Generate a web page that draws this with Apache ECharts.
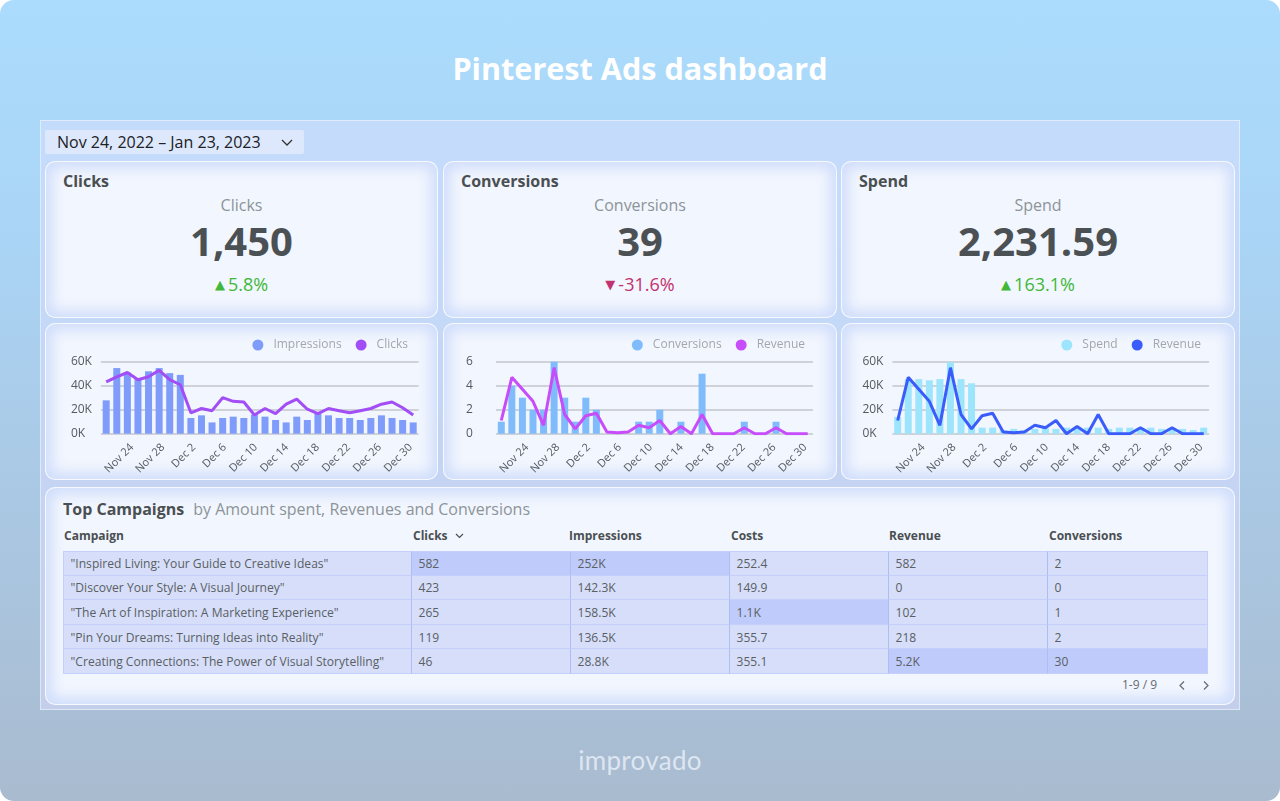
<!DOCTYPE html>
<html>
<head>
<meta charset="utf-8">
<title>Pinterest Ads dashboard</title>
<script src="https://cdn.jsdelivr.net/npm/echarts@6.0.0/dist/echarts.min.js"></script>
<style>
*{box-sizing:border-box;}
html,body{margin:0;padding:0;width:1280px;height:801px;background:#ffffff;overflow:hidden;}
body{font-family:"Open Sans","Noto Sans",sans-serif;}
#page{position:absolute;left:0;top:0;width:1280px;height:801px;border-radius:14px;overflow:hidden;
 background:linear-gradient(180deg,#abdcfd 0%,#aad4f5 30%,#aac7e2 65%,#a9bbcf 100%);}
#title{position:absolute;left:0;top:47px;width:1280px;text-align:center;color:#fff;font-weight:700;font-size:30.6px;line-height:42px;}
#panel{position:absolute;left:40px;top:120px;width:1200px;height:590px;background:rgba(222,224,255,0.5);border:1px solid rgba(255,255,255,0.45);}
#picker{position:absolute;left:45px;top:130px;width:259px;height:24px;background:#dde8fc;border-radius:2px;
 font-size:16px;line-height:24px;color:#202124;padding-left:12px;}
#picker svg{position:absolute;left:236px;top:9px;}
.card{position:absolute;border-radius:10px;background:#f2f6fe;
 box-shadow:inset 0 0 14px 6px rgba(207,221,251,1);border:1px solid rgba(255,255,255,0.4);}
.kpi-title{position:absolute;left:17px;top:7.5px;font-size:16px;line-height:22px;font-weight:700;color:#4a4f52;}
.kpi-sub{position:absolute;left:0;right:0;top:31.5px;text-align:center;font-size:16px;line-height:22px;color:#8c9499;}
.kpi-val{position:absolute;left:0;right:0;top:56px;text-align:center;font-size:40px;line-height:46px;font-weight:700;color:#4b5054;}
.kpi-delta{position:absolute;left:0;right:0;top:110px;text-align:center;font-size:18px;line-height:24px;}
.kpi-delta .tri{font-size:13px;margin-right:3px;position:relative;top:-2px;font-family:"DejaVu Sans",sans-serif;}
.up{color:#41b83a;}
.down{color:#c2326f;}
.chart{position:absolute;}
#tbl-title{position:absolute;left:17px;top:9.5px;font-size:16px;line-height:22px;white-space:nowrap;}
#tbl-title b{color:#4a4f52;font-weight:700;}
#tbl-title span{color:#8c9499;margin-left:9px;}
.th{position:absolute;top:40px;font-size:12px;line-height:16px;font-weight:700;color:#4a4f52;white-space:nowrap;}
.td{position:absolute;font-size:13px;color:#5a5f63;white-space:nowrap;overflow:visible;
 border-right:1px solid #aebdf7;border-bottom:1px solid #c4cffb;display:flex;align-items:center;}
.td span{display:inline-block;transform:scaleX(0.93);transform-origin:left center;padding-left:7px;}
#pager{position:absolute;top:188px;left:1076px;font-size:12px;line-height:18px;color:#666b70;}
#logo{position:absolute;left:0;width:1280px;top:742px;text-align:center;font-family:Lato,"Open Sans",sans-serif;
 font-size:26px;line-height:36px;color:rgba(236,242,250,0.78);letter-spacing:0.3px;}
</style>
</head>
<body>
<div id="page">
  <div id="title">Pinterest Ads dashboard</div>
  <div id="panel"></div>
  <div id="picker">Nov 24, 2022 – Jan 23, 2023
    <svg width="12" height="7" viewBox="0 0 12 7"><polyline points="1,1 6,6 11,1" fill="none" stroke="#333" stroke-width="1.3"/></svg>
  </div>

  <div class="card" style="left:45px;top:161px;width:393px;height:157px;">
    <div class="kpi-title">Clicks</div>
    <div class="kpi-sub">Clicks</div>
    <div class="kpi-val" id="kpi1"></div>
    <div class="kpi-delta up" id="d1"></div>
  </div>
  <div class="card" style="left:443px;top:161px;width:394px;height:157px;">
    <div class="kpi-title">Conversions</div>
    <div class="kpi-sub">Conversions</div>
    <div class="kpi-val" id="kpi2"></div>
    <div class="kpi-delta down" id="d2"></div>
  </div>
  <div class="card" style="left:841px;top:161px;width:394px;height:157px;">
    <div class="kpi-title">Spend</div>
    <div class="kpi-sub">Spend</div>
    <div class="kpi-val" id="kpi3"></div>
    <div class="kpi-delta up" id="d3"></div>
  </div>

  <div class="card" style="left:45px;top:323px;width:393px;height:157px;"></div>
  <div class="card" style="left:443px;top:323px;width:394px;height:157px;"></div>
  <div class="card" style="left:841px;top:323px;width:394px;height:157px;"></div>
  <div class="chart" id="c1" style="left:45px;top:323px;width:393px;height:157px;"></div>
  <div class="chart" id="c2" style="left:443px;top:323px;width:394px;height:157px;"></div>
  <div class="chart" id="c3" style="left:841px;top:323px;width:394px;height:157px;"></div>

  <div class="card" id="tcard" style="left:45px;top:487px;width:1190px;height:218px;">
    <div id="tbl-title"><b>Top Campaigns</b><span>by Amount spent, Revenues and Conversions</span></div>
    <div id="pager">1-9 / 9
      <svg style="position:absolute;left:57px;top:5px" width="6" height="9" viewBox="0 0 6 9"><polyline points="5,0.5 1,4.5 5,8.5" fill="none" stroke="#666b70" stroke-width="1.2"/></svg>
      <svg style="position:absolute;left:81px;top:5px" width="6" height="9" viewBox="0 0 6 9"><polyline points="1,0.5 5,4.5 1,8.5" fill="none" stroke="#666b70" stroke-width="1.2"/></svg>
    </div>
  </div>

  <div id="logo">improvado</div>
</div>

<script>
// ---------- KPI values ----------
const kpiValues = ['1,450', '39', '2,231.59'];
const kpiDeltas = ['5.8%', '-31.6%', '163.1%'];

// ---------- time axis ----------
const pointIds = ['01','02','03','04','05','06','07','08','09','10','11','12','13','14','15',
                  '16','17','18','19','20','21','22','23','24','25','26','27','28','29','30'];
const dayLabels = ['Nov 20','Nov 21','Nov 22','Nov 23','Nov 24','Nov 25','Nov 26','Nov 27','Nov 28','Nov 29','Nov 30',
  'Dec 1','Dec 2','Dec 3','Dec 4','Dec 5','Dec 6','Dec 7','Dec 8','Dec 9','Dec 10','Dec 11','Dec 12','Dec 13',
  'Dec 14','Dec 15','Dec 16','Dec 17','Dec 18','Dec 19','Dec 20','Dec 21','Dec 22','Dec 23','Dec 24','Dec 25',
  'Dec 26','Dec 27','Dec 28','Dec 29','Dec 30','Dec 31'];

// ---------- series ----------
const impressions = [27800,54700,51000,46000,52000,54700,50500,49000,13100,15300,9400,13100,14200,13100,15800,
                     14200,11400,9400,14200,11400,17200,15300,13100,13100,11400,13100,15300,13100,11400,9400];
const clicks = [72,79,85,75,79,88,75,68,29,35,32,50,45,44,26,35,28,41,48,34,28,35,32,29,32,35,41,44,36,26];
const conversions = [1,4,3,2,2,6,3,1,3,2,0,0,0,1,1,2,0,1,0,5,0,0,0,1,0,0,1,0,0,0];
const revenue = [11000,47000,37000,27000,7000,55000,16000,4000,15000,17000,1500,800,1500,7000,5000,
                 11000,0,6000,0,16000,0,0,0,5000,0,0,5000,0,0,0];
const spend = [14000,45500,45500,44500,45500,59600,45500,42000,5000,5000,3000,4000,3000,4000,4500,
               4000,5000,5000,5000,5000,4000,5000,5000,4000,5000,4000,4000,4000,3000,5000];

// ---------- table ----------
const campaigns = ['"Inspired Living: Your Guide to Creative Ideas"','"Discover Your Style: A Visual Journey"',
  '"The Art of Inspiration: A Marketing Experience"','"Pin Your Dreams: Turning Ideas into Reality"',
  '"Creating Connections: The Power of Visual Storytelling"'];
const tClicks = [582,423,265,119,46];
const tImpressions = [252000,142300,158500,136500,28800];
const tCosts = [252.4,149.9,1100,355.7,355.1];
const tRevenue = [582,0,102,218,5200];
const tConversions = [2,0,1,2,30];
const tHeaders = ['Campaign','Clicks','Impressions','Costs','Revenue','Conversions'];

const FONT = '"Open Sans","Noto Sans",sans-serif';

// KPIs
['kpi1','kpi2','kpi3'].forEach((id,i)=>{document.getElementById(id).textContent = kpiValues[i];});
document.getElementById('d1').innerHTML = '<span class="tri">▲</span>' + kpiDeltas[0];
document.getElementById('d2').innerHTML = '<span class="tri">▼</span>' + kpiDeltas[1];
document.getElementById('d3').innerHTML = '<span class="tri">▲</span>' + kpiDeltas[2];

// Table
(function(){
  const card = document.getElementById('tcard');
  const colX = [17,366,525,684,843,1002,1162];
  const headX = [18,367,523,685,843,1003];
  const rowTop = 63, rowH = 24.6;
  const fmt = v => v >= 1000 ? (Math.round(v/100)/10).toString() + 'K' : String(v);
  const cols = [campaigns, tClicks, tImpressions, tCosts, tRevenue, tConversions];
  tHeaders.forEach((h,c)=>{
    const d = document.createElement('div');
    d.className = 'th';
    d.style.left = headX[c] + 'px';
    d.innerHTML = h + (c===1 ? ' <svg width="9" height="6" viewBox="0 0 9 6" style="margin-left:4px;vertical-align:1px"><polyline points="1,1 4.5,4.5 8,1" fill="none" stroke="#4a4f52" stroke-width="1.2"/></svg>' : '');
    card.appendChild(d);
  });
  for (let c=0;c<cols.length;c++){
    const vals = cols[c];
    const maxV = c===0 ? null : Math.max.apply(null, vals);
    for (let r=0;r<vals.length;r++){
      const d = document.createElement('div');
      d.className = 'td';
      d.style.left = colX[c] + 'px';
      d.style.top = (rowTop + r*rowH) + 'px';
      d.style.width = (colX[c+1]-colX[c]) + 'px';
      d.style.height = rowH + 'px';
      const hi = c!==0 && vals[r] === maxV;
      d.style.background = hi ? '#bfcbfa' : '#d6defa';
      if (c===0) d.style.borderLeft = '1px solid #c4cffb';
      if (r===0) d.style.borderTop = '1px solid #c4cffb';
      if (c===cols.length-1) d.style.borderRight = '1px solid #c4cffb';
      const s = document.createElement('span');
      s.textContent = c===0 ? vals[r] : fmt(vals[r]);
      d.appendChild(s);
      card.appendChild(d);
    }
  }
})();

// Charts
function makeOption(o){
  return {
    animation:false,
    textStyle:{fontFamily:FONT},
    legend:{right:o.legendRight, top:11, icon:'circle', itemWidth:11, itemHeight:11, itemGap:14,
      textStyle:{color:'#a3a7ab', fontSize:12, fontFamily:FONT, padding:[0,0,0,5]}},
    grid:{left:o.left, right:o.right, top:38.7, bottom:46.3},
    xAxis:[
      {type:'category', data:pointIds, show:false},
      {type:'category', data:dayLabels, boundaryGap:false, position:'bottom',
       axisLine:{show:false}, axisTick:{show:false}, splitLine:{show:false},
       axisLabel:{interval:(i)=> i>=4 && i<=40 && (i-4)%4===0, rotate:45, color:'#555a5e',
                  fontSize:11, margin:12, fontFamily:FONT}}
    ],
    yAxis:[
      {type:'value', min:0, max:o.max, interval:o.interval, axisLine:{show:false}, axisTick:{show:false},
       axisLabel:{align:'left', margin:30, color:'#555a5e', fontSize:12, fontFamily:FONT, formatter:o.fmt, padding:[0,0,4,0]},
       splitLine:{lineStyle:{color:'#c3c6cb', width:1.5}}},
      {type:'value', min:0, max:o.max2, show:false, splitLine:{show:false}}
    ],
    series:[
      {name:o.barName, type:'bar', data:o.barData, barWidth:7, xAxisIndex:0, yAxisIndex:0,
       itemStyle:{color:o.barColor}},
      {name:o.lineName, type:'line', data:o.lineData, xAxisIndex:0, yAxisIndex:1, symbol:'none',
       lineStyle:{width:3, color:o.lineColor}, itemStyle:{color:o.lineColor}, z:3}
    ]
  };
}
const kfmt = v => (v/1000) + 'K';
echarts.init(document.getElementById('c1')).setOption(makeOption({
  legendRight:25, left:55.9, right:19.5, max:60000, interval:20000, max2:100, fmt:kfmt,
  barName:'Impressions', barData:impressions, barColor:'#7f9cfb',
  lineName:'Clicks', lineData:clicks, lineColor:'#a24ef6'
}));
echarts.init(document.getElementById('c2')).setOption(makeOption({
  legendRight:27, left:53, right:24, max:6, interval:2, max2:60000, fmt:v=>String(v),
  barName:'Conversions', barData:conversions, barColor:'#80bcfc',
  lineName:'Revenue', lineData:revenue, lineColor:'#c74cfa'
}));
echarts.init(document.getElementById('c3')).setOption(makeOption({
  legendRight:29, left:51.4, right:26, max:60000, interval:20000, max2:60000, fmt:kfmt,
  barName:'Spend', barData:spend, barColor:'#9ce5fd',
  lineName:'Revenue', lineData:revenue, lineColor:'#3a5cfb'
}));
</script>
</body>
</html>
